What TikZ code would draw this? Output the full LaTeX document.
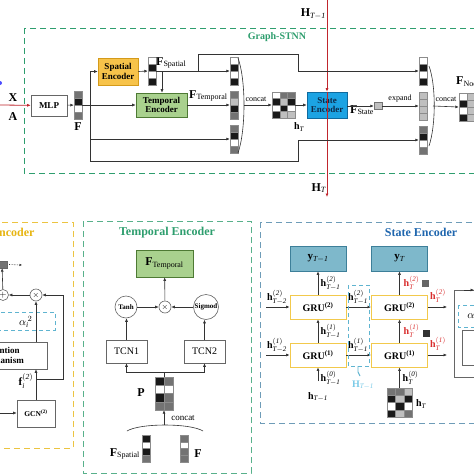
\documentclass[tikz,border=0pt]{standalone}
\usepackage{fontspec}
\setmainfont{Liberation Serif}
\usetikzlibrary{arrows.meta}

\definecolor{stnngreen}{HTML}{2E9E6E}
\definecolor{spyellow}{HTML}{F7C34A}
\definecolor{spborder}{HTML}{D49A1A}
\definecolor{tpgreen}{HTML}{A9D18E}
\definecolor{tpborder}{HTML}{4E7A34}
\definecolor{seblue}{HTML}{1CA3E3}
\definecolor{seborder}{HTML}{0F6A9E}
\definecolor{setext}{HTML}{0E2A48}
\definecolor{ybox}{HTML}{7EB8CB}
\definecolor{yborder}{HTML}{3D7F99}
\definecolor{gruyellow}{HTML}{F2C94C}
\definecolor{dashcyan}{HTML}{5FB4D0}
\definecolor{hcyan}{HTML}{7BCBE8}
\definecolor{titleblue}{HTML}{1F66AE}
\definecolor{titleyellow}{HTML}{E7B512}
\definecolor{stateline}{HTML}{6E9CB8}
\definecolor{hred}{HTML}{D92B2B}
\definecolor{hline}{HTML}{C0262D}
\colorlet{cB}{black!90}
\colorlet{cG}{black!55}
\colorlet{cL}{black!25}
\colorlet{cW}{white}

\tikzset{
  plain/.style={draw=black!60, fill=white, line width=0.6pt, align=center, inner sep=0pt},
  boldbox/.style={plain, font=\bfseries\fontsize{9}{9.5}\selectfont},
  conn/.style={draw=black!80, line width=0.6pt},
  arr/.style={conn, ->},
  redarr/.style={draw=hline, line width=0.8pt, ->},
  dashbox/.style={line width=0.9pt, dash pattern=on 6pt off 4pt},
  flabel/.style={font=\fontsize{12}{12}\selectfont, inner sep=0pt},
  hlabel/.style={font=\fontsize{10}{10}\selectfont, inner sep=0.5pt},
  small/.style={font=\fontsize{8}{8}\selectfont, inner sep=1pt},
  title/.style={font=\bfseries\fontsize{12}{12}\selectfont},
  gru/.style={draw=gruyellow, fill=white, line width=0.9pt, minimum width=56pt, minimum height=24pt,
    inner sep=0pt, font=\bfseries\fontsize{10}{10}\selectfont},
  ybx/.style={draw=yborder, fill=ybox, line width=0.7pt, minimum width=56pt, minimum height=25pt,
    inner sep=0pt, font=\fontsize{11}{11}\selectfont},
  op/.style={circle, draw=black!60, fill=white, line width=0.6pt, inner sep=0pt},
}

% grid of coloured cells: x, y, cell width, cell height, rows
\newcommand{\cells}[5]{%
  \foreach \rw [count=\j] in {#5} {%
    \foreach \cc [count=\i] in \rw {%
      \filldraw[draw=black!45, line width=0.3pt, fill=\cc]
        ({#1+(\i-1)*#3},{#2+(\j-1)*#4}) rectangle ++(#3,#4);
    }%
  }%
}
% column of four cells with a node name
\newcommand{\vcol}[4]{%
  \cells{#2}{#3}{8}{7}{#4}%
  \node[inner sep=0pt, minimum width=8pt, minimum height=28pt] (#1) at ({#2+4},{#3+14}) {};%
}
\newcommand{\Fv}[1]{\textbf{F}\textsubscript{#1}}
\newcommand{\hv}[3]{$\mathbf{#1}^{\mathit{#2}}_{\mathit{#3}}$}

\begin{document}
\begin{tikzpicture}[x=1pt, y=-1pt, >={Latex[length=3.5pt,width=3pt]}]
\clip (0,0) rectangle (474,474);
\fill[white] (0,0) rectangle (474,474);

% ---------- Graph-STNN ----------
\draw[stnngreen, dashbox] (24,28) rectangle (500,173);
\node[font=\bfseries\fontsize{10}{10}\selectfont, text=stnngreen] (gtitle) at (277,37) {Graph-STNN};
\fill[blue!70] (0,83) circle (2);

\coordinate (xin) at (0,105);
\node[boldbox, minimum width=36pt, minimum height=21pt] (mlp) at (49,105.5) {MLP};
\node[flabel, font=\bfseries\fontsize{12}{12}\selectfont] (xlab) at (13,98) {X};
\node[flabel, font=\bfseries\fontsize{12}{12}\selectfont] (alab) at (13,117) {A};
\draw[redarr] (xin) -- (mlp);

\vcol{fcol}{74}{91}{cG,cB,cW,cG}
\node[flabel, font=\bfseries\fontsize{12}{12}\selectfont] (flab) at (78,127) {F};
\draw[arr] (mlp) -- (fcol);

\node[boldbox, draw=spborder, fill=spyellow, minimum width=40pt, minimum height=27pt] (spatial) at (118,71.5) {Spatial\\Encoder};
\node[boldbox, draw=tpborder, fill=tpgreen, minimum width=51pt, minimum height=24pt] (temporal) at (161.5,105) {Temporal\\Encoder};

\vcol{fsp}{148}{57}{cW,cB,cW,cB}
\node[flabel, anchor=west] (fsplab) at (156,63) {\Fv{Spatial}};
\node[flabel, anchor=west] (ftplab) at (189,96) {\Fv{Temporal}};

% columns before concat
\vcol{lt}{230}{57}{cW,cB,cW,cB}
\vcol{lm}{230}{91}{cG,cL,cB,cG}
\vcol{lb}{230}{125}{cG,cB,cW,cG}
\draw[conn] (238,58) .. controls (246,80) and (246,130) .. (238,153);
\coordinate (lp) at (244,105);
\node[small] (concat1) at (256,99) {concat};

% routes from the MLP output
\coordinate (j1) at (90,105);
\coordinate (jb) at (90,161);
\coordinate (jk) at (298,140);
\draw[arr] (fcol.east) -- (temporal.west);
\draw[arr] (j1) |- (spatial.west);
\draw[arr] (j1) |- (lb.west);
\draw[conn] (j1) -- (jb) -| (jk);
\draw[arr] (spatial.east) -- (fsp.west);
\draw[arr] (fsp.east) -- (lt.west);
\coordinate (js) at (162,71);
\draw[arr] (js) -- (js |- temporal.north);
\draw[arr] (temporal.east) -- (lm.west);

% state encoder
\cells{272}{92}{7.67}{6.5}{{cW,cG,cG},{cB,cL,cB},{cW,cB,cW},{cB,cL,cL}}
\node[inner sep=0pt, minimum width=23pt, minimum height=26pt] (hmat) at (283.5,105) {};
\node[hlabel] (hTlab) at (299,127) {$\mathbf{h}_{\mathit{T}}$};
\draw[arr] (lp) -- (hmat.west);
\node[boldbox, draw=seborder, fill=seblue, text=setext, minimum width=40pt, minimum height=26pt] (se) at (327,105) {State\\Encoder};
\draw[arr] (hmat.east) -- (se.west);
\node[flabel, anchor=north west] (fstlab) at (350,105) {\Fv{State}};

\coordinate (htop) at (327,-2);
\coordinate (hbot) at (327,197);
\draw[redarr] (htop) -- (se.north);
\draw[redarr] (se.north) -- (hbot);
\node[flabel, anchor=east] (hprev) at (326,14) {$\mathbf{H}_{\mathit{T-1}}$};
\node[flabel, anchor=east] (hnext) at (326,188) {$\mathbf{H}_{\mathit{T}}$};

\node[draw=black!55, fill=cL, inner sep=0pt, minimum width=8pt, minimum height=7pt] (sq) at (378,106) {};
\draw[arr] (se.east |- sq) -- (sq);
\node[small] (expand) at (400,99) {expand};

% columns after expand
\vcol{rt}{419}{57}{cW,cB,cW,cB}
\vcol{rm}{419}{92}{cL,cL,cL,cL}
\vcol{rb}{419}{126}{cG,cB,cW,cG}
\draw[arr] (sq) -- (rm.west);
\draw[conn] (429,66) .. controls (436,85) and (436,125) .. (429,146);
\coordinate (rp) at (433,106);
\node[small] (concat2) at (446,99) {concat};

\coordinate (tu1) at (198,54);
\coordinate (tu2) at (298,54);
\draw[arr] (198,71) -- (tu1) -- (tu2) |- (rt.west);
\draw[arr] (jk) -- (rb.west);

\cells{459}{93}{8}{7}{{cW,cL,cL},{cB,cL,cL},{cW,cL,cL},{cB,cL,cL}}
\node[inner sep=0pt, minimum width=24pt, minimum height=28pt] (fnode) at (471,107) {};
\draw[arr] (rp) -- (fnode.west);
\node[flabel, anchor=west] (fnodelab) at (456,82) {\Fv{Node}};

% ---------- Spatial Encoder detail ----------
\draw[titleyellow!80, dashbox] (-10,222) rectangle (73,448);
\node[title, text=titleyellow, anchor=east] (sptitle) at (38,234) {Spatial Encoder};
\node[draw=black!60, fill=cG, inner sep=0pt, minimum width=10pt, minimum height=7pt] (gsq) at (2,264.5) {};
\coordinate (dotend) at (22,265);
\draw[conn, densely dotted, -{Latex[length=2.5pt,width=2.5pt]}] (gsq.east) ++(2,0) -- (dotend);
\node[op, minimum size=11pt, font=\fontsize{9}{9}\selectfont] (plus) at (3,295) {$+$};
\node[op, minimum size=12pt, font=\fontsize{8}{8}\selectfont] (times1) at (36,295) {$\times$};
\draw[arr] (plus) -- (gsq);
\draw[arr] (times1) -- (plus);
\draw[dashcyan, line width=0.9pt, dash pattern=on 4pt off 3pt] (-20,312) rectangle (55,330);
\node[plain, font=\bfseries\fontsize{9}{10}\selectfont, minimum width=91pt, minimum height=27pt] (att) at (1.5,355.5) {Attention\\Mechanism};
\node[hlabel, anchor=east, font=\fontsize{11}{11}\selectfont] (alpha) at (33,322) {$\alpha_{\mathit{i}}^{\,2}$};
\draw[arr] (att.north -| times1) -- (times1);
\node[plain, font=\bfseries\fontsize{7.5}{8}\selectfont, minimum width=38pt, minimum height=27pt] (gcn) at (36,413.5) {GCN\textsuperscript{(2)}};
\coordinate (gin) at (0,413);
\draw[arr] (gin) -- (gin -| gcn.west);
\draw[arr] (gcn) -- (gcn |- att.south);
\node[hlabel, anchor=east, font=\fontsize{11}{11}\selectfont] (filab) at (34,381) {\hv{f}{(2)}{i}};
\coordinate (br1) at (36,379);
\coordinate (br2) at (63,379);
\draw[arr] (br1) -- (br2) |- (times1.east);

% ---------- Temporal Encoder detail ----------
\draw[stnngreen!80, dashbox] (83,221) rectangle (251,473);
\node[title, text=stnngreen] (tptitle) at (167,233) {Temporal Encoder};
\node[draw=tpborder, fill=tpgreen, line width=0.8pt, minimum width=57pt, minimum height=27pt, flabel] (ftemp) at (164.5,263.5) {\Fv{Temporal}};
\node[op, minimum size=12pt, font=\fontsize{8}{8}\selectfont] (times2) at (165,307) {$\times$};
\node[op, minimum size=22pt, font=\bfseries\fontsize{7}{7}\selectfont] (tanh) at (126,307) {Tanh};
\node[op, minimum size=25pt, font=\bfseries\fontsize{7}{7}\selectfont] (sig) at (206,307) {Sigmod};
\draw[arr] (times2) -- (ftemp);
\draw[arr] (tanh) -- (times2);
\draw[arr] (sig) -- (times2);
\node[plain, minimum width=41pt, minimum height=23pt, font=\fontsize{10}{10}\selectfont] (tcn1) at (126.5,351.5) {TCN1};
\node[plain, minimum width=41pt, minimum height=23pt, font=\fontsize{10}{10}\selectfont] (tcn2) at (204.5,351.5) {TCN2};
\draw[arr] (tcn1) -- (tcn1 |- tanh.south);
\draw[arr] (tcn2) -- (tcn2 |- sig.south);
\cells{155}{377}{9}{8.25}{{cB,cG},{cW,cW},{cB,cG},{cG,cG}}
\node[inner sep=0pt, minimum width=18pt, minimum height=33pt] (pmat) at (164,393.5) {};
\node[flabel, font=\bfseries\fontsize{12}{12}\selectfont] (plab) at (141,393) {P};
\coordinate (pj) at (164,372);
\draw[conn] (pmat.north) -- (pj);
\draw[arr] (pj) -| (tcn1.south);
\draw[arr] (pj) -| (tcn2.south);
\draw[conn] (127,431) .. controls (140,423) and (190,423) .. (203,431);
\coordinate (cb) at (164,425);
\draw[arr] (cb) -- (pmat.south);
\node[small, font=\fontsize{9}{9}\selectfont] (concat3) at (183,418) {concat};
\cells{142}{435}{8}{6.75}{{cB},{cW},{cB},{cG}}
\cells{180}{435}{8}{6.75}{{cG},{cW},{cG},{cG}}
\node[flabel, anchor=east] (fsplab2) at (140,454) {\Fv{Spatial}};
\node[flabel, font=\bfseries\fontsize{12}{12}\selectfont] (flab2) at (198,454) {F};

% ---------- State Encoder detail ----------
\draw[stateline, dashbox] (260,222) rectangle (500,423);
\node[title, text=titleblue] (sttitle) at (421,232) {State Encoder};
\node[ybx] (yl) at (318,258.5) {$\mathbf{y}_{\mathit{T-1}}$};
\node[ybx] (yr) at (399.5,258.5) {$\mathbf{y}_{\mathit{T}}$};
\node[gru] (g2l) at (318,307) {GRU\textsuperscript{(2)}};
\node[gru] (g1l) at (318,355) {GRU\textsuperscript{(1)}};
\node[gru] (g2r) at (399.5,307) {GRU\textsuperscript{(2)}};
\node[gru] (g1r) at (399.5,355) {GRU\textsuperscript{(1)}};

\coordinate (i2) at (266,307);
\coordinate (i1) at (266,355);
\draw[arr] (i2) -- (g2l);
\draw[arr] (i1) -- (g1l);
\node[hlabel] (h22) at (277,297) {\hv{h}{(2)}{T-2}};
\node[hlabel] (h12) at (277,345) {\hv{h}{(1)}{T-2}};
\draw[arr] (g1l) -- (g2l);
\draw[arr] (g2l) -- (yl);
\node[hlabel, anchor=west] (h11) at (320,331) {\hv{h}{(1)}{T-1}};
\node[hlabel, anchor=west] (h21) at (320,283) {\hv{h}{(2)}{T-1}};
\coordinate (i0l) at (318,381);
\draw[arr] (i0l) -- (g1l);
\node[hlabel, anchor=west] (h01) at (320,378) {\hv{h}{(0)}{T-1}};
\node[hlabel] (hTm1) at (318,397) {$\mathbf{h}_{\mathit{T-1}}$};
\draw[arr] (g2l) -- (g2r);
\draw[arr] (g1l) -- (g1r);
\node[hlabel] (h21m) at (358,297) {\hv{h}{(2)}{T-1}};
\node[hlabel] (h11m) at (358,345) {\hv{h}{(1)}{T-1}};
\draw[dashcyan, line width=0.9pt, dash pattern=on 4pt off 3pt] (348,285) rectangle (369,366);
\draw[dashcyan, line width=0.9pt] (358,366) -- (358,372) -- (360,376);
\node[hlabel, text=hcyan] (Hcyan) at (363,385) {$\mathbf{H}_{\mathit{T-1}}$};

\draw[arr] (g1r) -- (g2r);
\draw[arr] (g2r) -- (yr);
\node[hlabel, anchor=west, text=hred] (r1) at (403,331) {\hv{h}{(1)}{T}};
\node[hlabel, anchor=west, text=hred] (r2) at (403,283) {\hv{h}{(2)}{T}};
\fill[black!80] (423,330) rectangle (430,337);
\fill[black!60] (422,280) rectangle (429,287);
\coordinate (o2) at (447,307);
\coordinate (o1) at (447,355);
\draw[arr] (g2r) -- (o2);
\draw[arr] (g1r) -- (o1);
\node[hlabel, text=hred] (r2o) at (438,296) {\hv{h}{(2)}{T}};
\node[hlabel, text=hred] (r1o) at (438,344) {\hv{h}{(1)}{T}};
\cells{387}{388}{8.33}{7.25}{{cG,cG,cL},{cB,cL,cB},{cW,cB,cW},{cB,cL,cG}}
\node[inner sep=0pt, minimum width=25pt, minimum height=29pt] (hmat2) at (399.5,402.5) {};
\draw[arr] (hmat2.north) -- (g1r);
\node[hlabel, anchor=west] (h0r) at (402,378) {\hv{h}{(0)}{T}};
\node[hlabel] (hTr) at (421,404) {$\mathbf{h}_{\mathit{T}}$};

% partial block on the right
\draw[black!60, line width=0.7pt] (454,290) rectangle (500,377);
\draw[conn, ->] (464,290) -- (474,290);
\draw[dashcyan, line width=0.9pt, dash pattern=on 4pt off 3pt] (458,305) rectangle (500,327);
\node[hlabel, font=\fontsize{11}{11}\selectfont] (alpha2) at (471,316) {$\alpha$};
\draw[black!60, line width=0.6pt] (462,330) rectangle (500,365);
\end{tikzpicture}
\end{document}
